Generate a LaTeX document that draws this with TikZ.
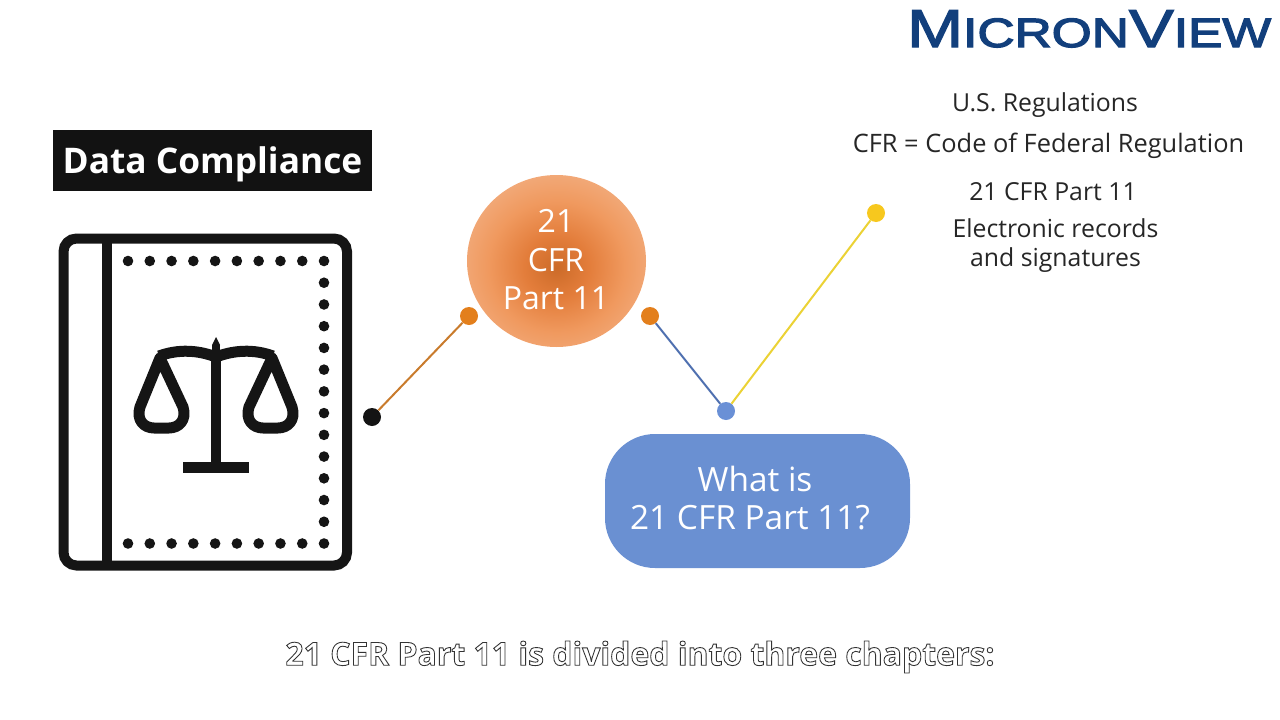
\documentclass[tikz,border=0pt]{standalone}
\usepackage{fontspec}
\setmainfont{Open Sans}
\newfontfamily\logofont{Liberation Sans}[FakeStretch=1.26]
\usetikzlibrary{calc,shapes.geometric}
\definecolor{bookink}{HTML}{151515}
\definecolor{orangedot}{HTML}{E37F1C}
\definecolor{blueshape}{HTML}{6A90D2}
\definecolor{bluedot}{HTML}{6A90D6}
\definecolor{yellowdot}{HTML}{F7C81E}
\definecolor{orangeline}{HTML}{C97B2C}
\definecolor{blueline}{HTML}{4F70B0}
\definecolor{yellowline}{HTML}{EBD235}
\definecolor{navy}{HTML}{123F7C}
\pgfdeclareradialshading{orangeglow}{\pgfpoint{0bp}{-2bp}}{
 rgb(0bp)=(0.80,0.42,0.16);
 rgb(9bp)=(0.89,0.49,0.23);
 rgb(19bp)=(0.94,0.60,0.37);
 rgb(29bp)=(0.95,0.68,0.50);
 rgb(36bp)=(0.96,0.73,0.58);
 rgb(100bp)=(0.96,0.73,0.58)}
\tikzset{
 x=1pt,y=-1pt,
 dotnode/.style={circle,inner sep=0pt,minimum size=18pt},
 link/.style={line width=2pt},
 ink/.style={draw=bookink,line width=10pt},
 inkdot/.style={fill=bookink},
 info/.style={font=\fontsize{24.8}{29}\selectfont,text=black!85,align=center,inner sep=0pt},
}
\newcommand{\smallcap}[1]{{\fontsize{42}{42}\selectfont #1}}
\begin{document}
\begin{tikzpicture}
\useasboundingbox (0,0) rectangle (1280,720);
% title
\node[fill=black!93,minimum width=319pt,minimum height=61pt,inner sep=0pt] (title) at (212.5,160.5) {};
\node[text=white,inner sep=0pt,font=\fontsize{35.3}{40}\selectfont\bfseries] (titletext) at (212.5,164) {Data Compliance};
% book
\draw[ink,rounded corners=13pt] (63.5,238.5) rectangle (347,565.5);
\draw[ink] (107,238) -- (107,566);
\foreach \i in {0,...,9} {
 \fill[inkdot] ({128+\i*21.78},261) circle (5.3);
 \fill[inkdot] ({128+\i*21.78},543.5) circle (5.3);
}
\foreach \i in {1,...,12} \fill[inkdot] (324,{261+\i*21.73}) circle (5.3);
% scales
\draw[ink,line width=10.5pt] (216,352) -- (216,464);
\fill[bookink] (183,462) rectangle (249,473);
\fill[bookink] (216,337) -- (220,345) -- (219.5,356) -- (212.5,356) -- (212,345) -- cycle;
\draw[ink,line width=11pt] (159,356) .. controls (178,349) and (198,350) .. (216,357) .. controls (234,350) and (254,349) .. (273,356);
\draw[ink,line width=11pt,line join=round] (160,358) -- (140,407) .. controls (136,420) and (144,428) .. (154,428) -- (169,428) .. controls (179,428) and (187,420) .. (183,407) -- cycle;
\draw[ink,line width=11pt,line join=round] (272,358) -- (249,407) .. controls (245,420) and (253,428) .. (263,428) -- (278,428) .. controls (288,428) and (296,420) .. (292,407) -- cycle;
% circle
\node[ellipse,minimum width=179pt,minimum height=172pt,inner sep=0pt,shading=orangeglow] (hub) at (556.5,261) {};
\node[font=\fontsize{32}{38.5}\selectfont,text=white,align=center,inner sep=0pt] (hubtext) at (556,260) {21\\CFR\\Part 11};
% blue box
\node[fill=blueshape,rounded corners=50pt,minimum width=305pt,minimum height=134pt,inner sep=0pt] (what) at (757.5,501) {};
\node[text=white,font=\fontsize{33.4}{38}\selectfont,align=center,inner sep=0pt] (whattext) at (750,498) {\hspace{10pt}What is\\21 CFR Part 11?};
% dots
\node[dotnode,fill=black!92] (d1) at (372,417) {};
\node[dotnode,fill=orangedot] (d2) at (469,316) {};
\node[dotnode,fill=orangedot] (d3) at (650,316) {};
\node[dotnode,fill=bluedot] (d4) at (726,411) {};
\node[dotnode,fill=yellowdot] (d5) at (876,213) {};
\draw[link,orangeline] (d1) -- (d2);
\draw[link,blueline] (d3) -- (d4);
\draw[link,yellowline] (d4) -- (d5);
% right text
\node[info] (t1) at (1045,105) {U.S. Regulations};
\node[info,font=\fontsize{25.4}{30}\selectfont] (t2) at (1048.5,146) {CFR = Code of Federal Regulation};
\node[info] (t3) at (1053,192) {21 CFR Part 11};
\node[info] (t4) at (1055.5,245.5) {Electronic records\\and signatures};
% logo
\node[inner sep=0pt,anchor=base,text=navy] (logo) at (1089,47) {\resizebox{364pt}{!}{\logofont\fontsize{55}{55}\selectfont\special{pdf:code 2 Tr 1.4 w}M\smallcap{ICRON}V\smallcap{IEW}\special{pdf:code 0 Tr}}};
% caption
\node[inner sep=0pt,text=black!80] (caption) at (640,657) {\resizebox{709pt}{!}{\fontsize{33}{40}\selectfont\bfseries\special{pdf:code 1 Tr 0.9 w}21 CFR Part 11 is divided into three chapters:\special{pdf:code 0 Tr}}};
\end{tikzpicture}
\end{document}
